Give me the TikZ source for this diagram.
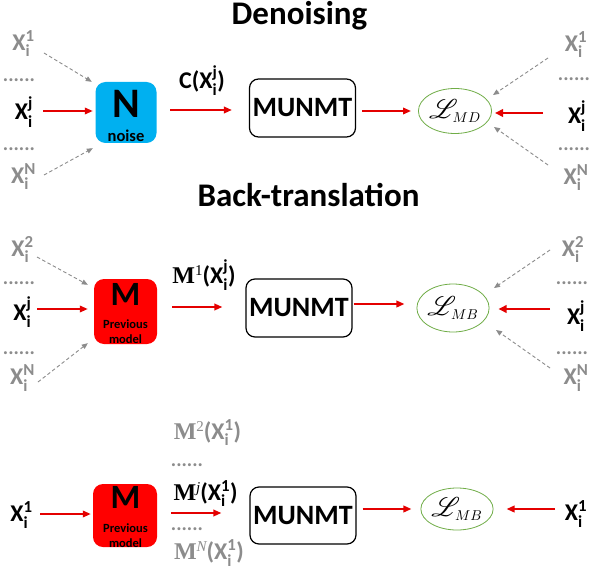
\documentclass[tikz,border=0pt]{standalone}
\usepackage{amsmath}
\usepackage{mathrsfs}
\usepackage{fontspec}
\setmainfont{Carlito}
\newfontfamily\serifM{Liberation Serif}
\usetikzlibrary{arrows.meta,shapes.geometric}
\definecolor{myred}{RGB}{228,0,0}
\definecolor{boxred}{RGB}{255,0,0}
\definecolor{mycyan}{RGB}{0,176,240}
\definecolor{mygray}{RGB}{140,140,140}
\definecolor{mygreen}{RGB}{112,173,71}
\newcommand\Xs[2]{$\text{X}_{\text{#1}}^{\text{#2}}$}
\newcommand\fsz[1]{\fontsize{#1}{#1}\selectfont}
\newcommand\Mj[1]{{\serifM\bfseries M}\raisebox{8pt}{\fsz{15}\serifM\mdseries #1}}
\newcommand\Loss[1]{\scalebox{1.3}{$\mathscr{L}_{\scriptscriptstyle #1}$}}
\begin{document}
\begin{tikzpicture}[x=1pt,y=-1pt,
  title/.style={font=\fsz{33}\bfseries, anchor=base, inner sep=0pt},
  xin/.style={font=\fsz{24}\bfseries, inner sep=0pt},
  xgray/.style={xin, text=mygray},
  dotrow/.style={font=\fsz{20}\bfseries, text=mygray, inner sep=0pt},
  lbl/.style={font=\fsz{24}\bfseries, inner sep=0pt},
  lblgray/.style={lbl, text=mygray},
  redarr/.style={draw=myred, line width=1.9pt, -{Triangle[length=8pt,width=6.5pt]}},
  redthick/.style={draw=myred, line width=2.8pt, -{Triangle[length=8pt,width=7.5pt]}},
  grayarr/.style={draw=mygray, line width=0.9pt, dash pattern=on 3.5pt off 2.5pt, -{Triangle[length=6pt,width=5pt]}},
  munmtbox/.style={draw, line width=1.2pt, rounded corners=9pt, minimum width=106pt, minimum height=58pt, inner sep=0pt, font=\fsz{28}\bfseries},
  lossnode/.style={ellipse, draw=mygreen, line width=0.8pt, inner sep=0pt, minimum width=70pt, minimum height=45pt, font=\fsz{22}},
  nboxs/.style={fill=mycyan, rounded corners=10pt, minimum width=61pt, minimum height=61pt, inner sep=0pt},
  mboxs/.style={fill=boxred, rounded corners=10pt, minimum width=64pt, minimum height=64pt, inner sep=0pt},
  bigletter/.style={font=\fsz{42}\bfseries, inner sep=0pt},
  boxsmall/.style={font=\fsz{12.5}\bfseries, inner sep=0pt, anchor=base}
]
\useasboundingbox[fill=white] (0,0) rectangle (593,572);

% ---------------- Denoising ----------------
\node[title] (t1) at (299.5,25) {Denoising};
\node[nboxs] (nbox) at (126,112.5) {};
\node[bigletter] (nN) at (126,104) {N};
\node[font=\fsz{16.5}\bfseries, inner sep=0pt, anchor=base] (nnoise) at (126,142) {noise};
\node[munmtbox] (munmt1) at (302.5,108) {MUNMT};
\node[lossnode] (lmd) at (455,111) {\Loss{MD}};

\node[xin] (in1) at (24,112) {\Xs{i}{j}};
\node[xgray] (x1) at (23.5,43.5) {\Xs{i}{1}};
\node[xgray] (xN) at (23.5,176.5) {\Xs{i}{N}};
\node[dotrow] (d1) at (19,80) {......};
\node[dotrow] (d2) at (19,149) {......};
\node[lbl] (c1) at (202,80.5) {C(\Xs{i}{j})};

\node[xin] (rin1) at (577,116) {\Xs{i}{j}};
\node[xgray] (r1) at (576,44.5) {\Xs{i}{1}};
\node[xgray] (rN) at (576,177.5) {\Xs{i}{N}};
\node[dotrow] (rd1) at (574,79) {......};
\node[dotrow] (rd2) at (574,149) {......};

\draw[redarr] ([shift={(19,-1)}]in1.center) -- ([shift={(-2.5,-1.5)}]nbox.west);
\draw[redarr] ([shift={(13.5,-2.5)}]nbox.east) -- ([shift={(-17,2)}]munmt1.west);
\draw[redarr] ([shift={(6,3)}]munmt1.east) -- ([shift={(-7,0)}]lmd.west);
\draw[redthick] ([shift={(-34,-3)}]rin1.center) -- ([shift={(3,2)}]lmd.east);
\draw[grayarr] ([shift={(20.5,9.5)}]x1.center) -- ([shift={(-3.5,0)}]nbox.north west);
\draw[grayarr] ([shift={(20.5,-1.5)}]xN.center) -- ([shift={(-2.5,5)}]nbox.south west);
\draw[grayarr] ([shift={(-28,13.5)}]r1.center) -- ([shift={(38,-16)}]lmd.center);
\draw[grayarr] ([shift={(-28,-12.5)}]rN.center) -- ([shift={(39,16)}]lmd.center);

% ---------------- Back-translation ----------------
\node[title] (t2) at (308.5,206) {Back-translation};
\node[mboxs, minimum width=63pt, minimum height=65pt] (mbox1) at (125.5,311.5) {};
\node[bigletter, font=\fsz{34}\bfseries] (mM1) at (125.5,294.5) {M};
\node[boxsmall] (prev1) at (125.5,328) {Previous};
\node[boxsmall] (model1) at (125.5,343.5) {model};
\node[munmtbox] (munmt2) at (299,308) {MUNMT};
\node[lossnode, minimum width=72pt, minimum height=48pt] (lmb1) at (453,308) {\Loss{MB}};

\node[xin] (in2) at (22.5,312) {\Xs{i}{j}};
\node[xgray] (x2) at (22.5,249.5) {\Xs{i}{2}};
\node[xgray] (x2N) at (22.5,378) {\Xs{i}{N}};
\node[dotrow] (d3) at (19,283) {......};
\node[dotrow] (d4) at (19,353) {......};
\node[lbl] (m1lbl) at (204,275) {\Mj{1}(\Xs{i}{j})};

\node[xin] (rin2) at (576,316) {\Xs{i}{j}};
\node[xgray] (rx2) at (573,249.5) {\Xs{i}{2}};
\node[xgray] (rx2N) at (576,378) {\Xs{i}{N}};
\node[dotrow] (rd3) at (572,283) {......};
\node[dotrow] (rd4) at (572,353) {......};

\draw[redarr] ([shift={(14.5,-3)}]in2.center) -- ([shift={(-6,-2.5)}]mbox1.west);
\draw[redarr] ([shift={(15,-4.5)}]mbox1.east) -- ([shift={(-23,-1)}]munmt2.west);
\draw[redarr] ([shift={(1,-4)}]munmt2.east) -- ([shift={(-12,-4)}]lmb1.west);
\draw[redthick] ([shift={(-26,-7)}]rin2.center) -- ([shift={(9,1)}]lmb1.east);
\draw[grayarr] ([shift={(14.5,7.5)}]x2.center) -- ([shift={(-6,6)}]mbox1.north west);
\draw[grayarr] ([shift={(15.5,4)}]x2N.center) -- ([shift={(-6,-1)}]mbox1.south west);
\draw[grayarr] ([shift={(-23,0.5)}]rx2.center) -- ([shift={(41,-20)}]lmb1.center);
\draw[grayarr] ([shift={(-26,-10)}]rx2N.center) -- ([shift={(43,22)}]lmb1.center);

% ---------------- Third row ----------------
\node[mboxs, minimum width=64pt, minimum height=63pt] (mbox2) at (125,515.5) {};
\node[bigletter, font=\fsz{34}\bfseries] (mM2) at (125.5,497.5) {M};
\node[boxsmall] (prev2) at (125.5,532) {Previous};
\node[boxsmall] (model2) at (125.5,547.5) {model};
\node[munmtbox, minimum height=57pt] (munmt3) at (303,515.5) {MUNMT};
\node[lossnode, minimum width=70pt, minimum height=42pt] (lmb2) at (457,509) {\Loss{MB}};

\node[xin] (in3) at (21.5,515) {\Xs{i}{1}};
\node[lblgray] (m2lbl) at (207.5,432.5) {\Mj{2}(\Xs{i}{1})};
\node[dotrow] (d5) at (187,465) {......};
\node[lbl] (mjlbl) at (205.5,493.5) {\Mj{\itshape j}(\Xs{i}{1})};
\node[dotrow] (d6) at (187,529) {......};
\node[lblgray] (mNlbl) at (209,553) {\Mj{\itshape N}(\Xs{i}{1})};
\node[xin] (rin3) at (576,514) {\Xs{i}{1}};

\draw[redarr] ([shift={(18.5,-1)}]in3.center) -- ([shift={(-2,-1.5)}]mbox2.west);
\draw[redarr] ([shift={(14,-2.5)}]mbox2.east) -- ([shift={(-28,-2.5)}]munmt3.west);
\draw[redarr] ([shift={(6,-6.5)}]munmt3.east) -- ([shift={(-9,0)}]lmb2.west);
\draw[redarr] ([shift={(-21,-5)}]rin3.center) -- ([shift={(13,0)}]lmb2.east);
\end{tikzpicture}
\end{document}
